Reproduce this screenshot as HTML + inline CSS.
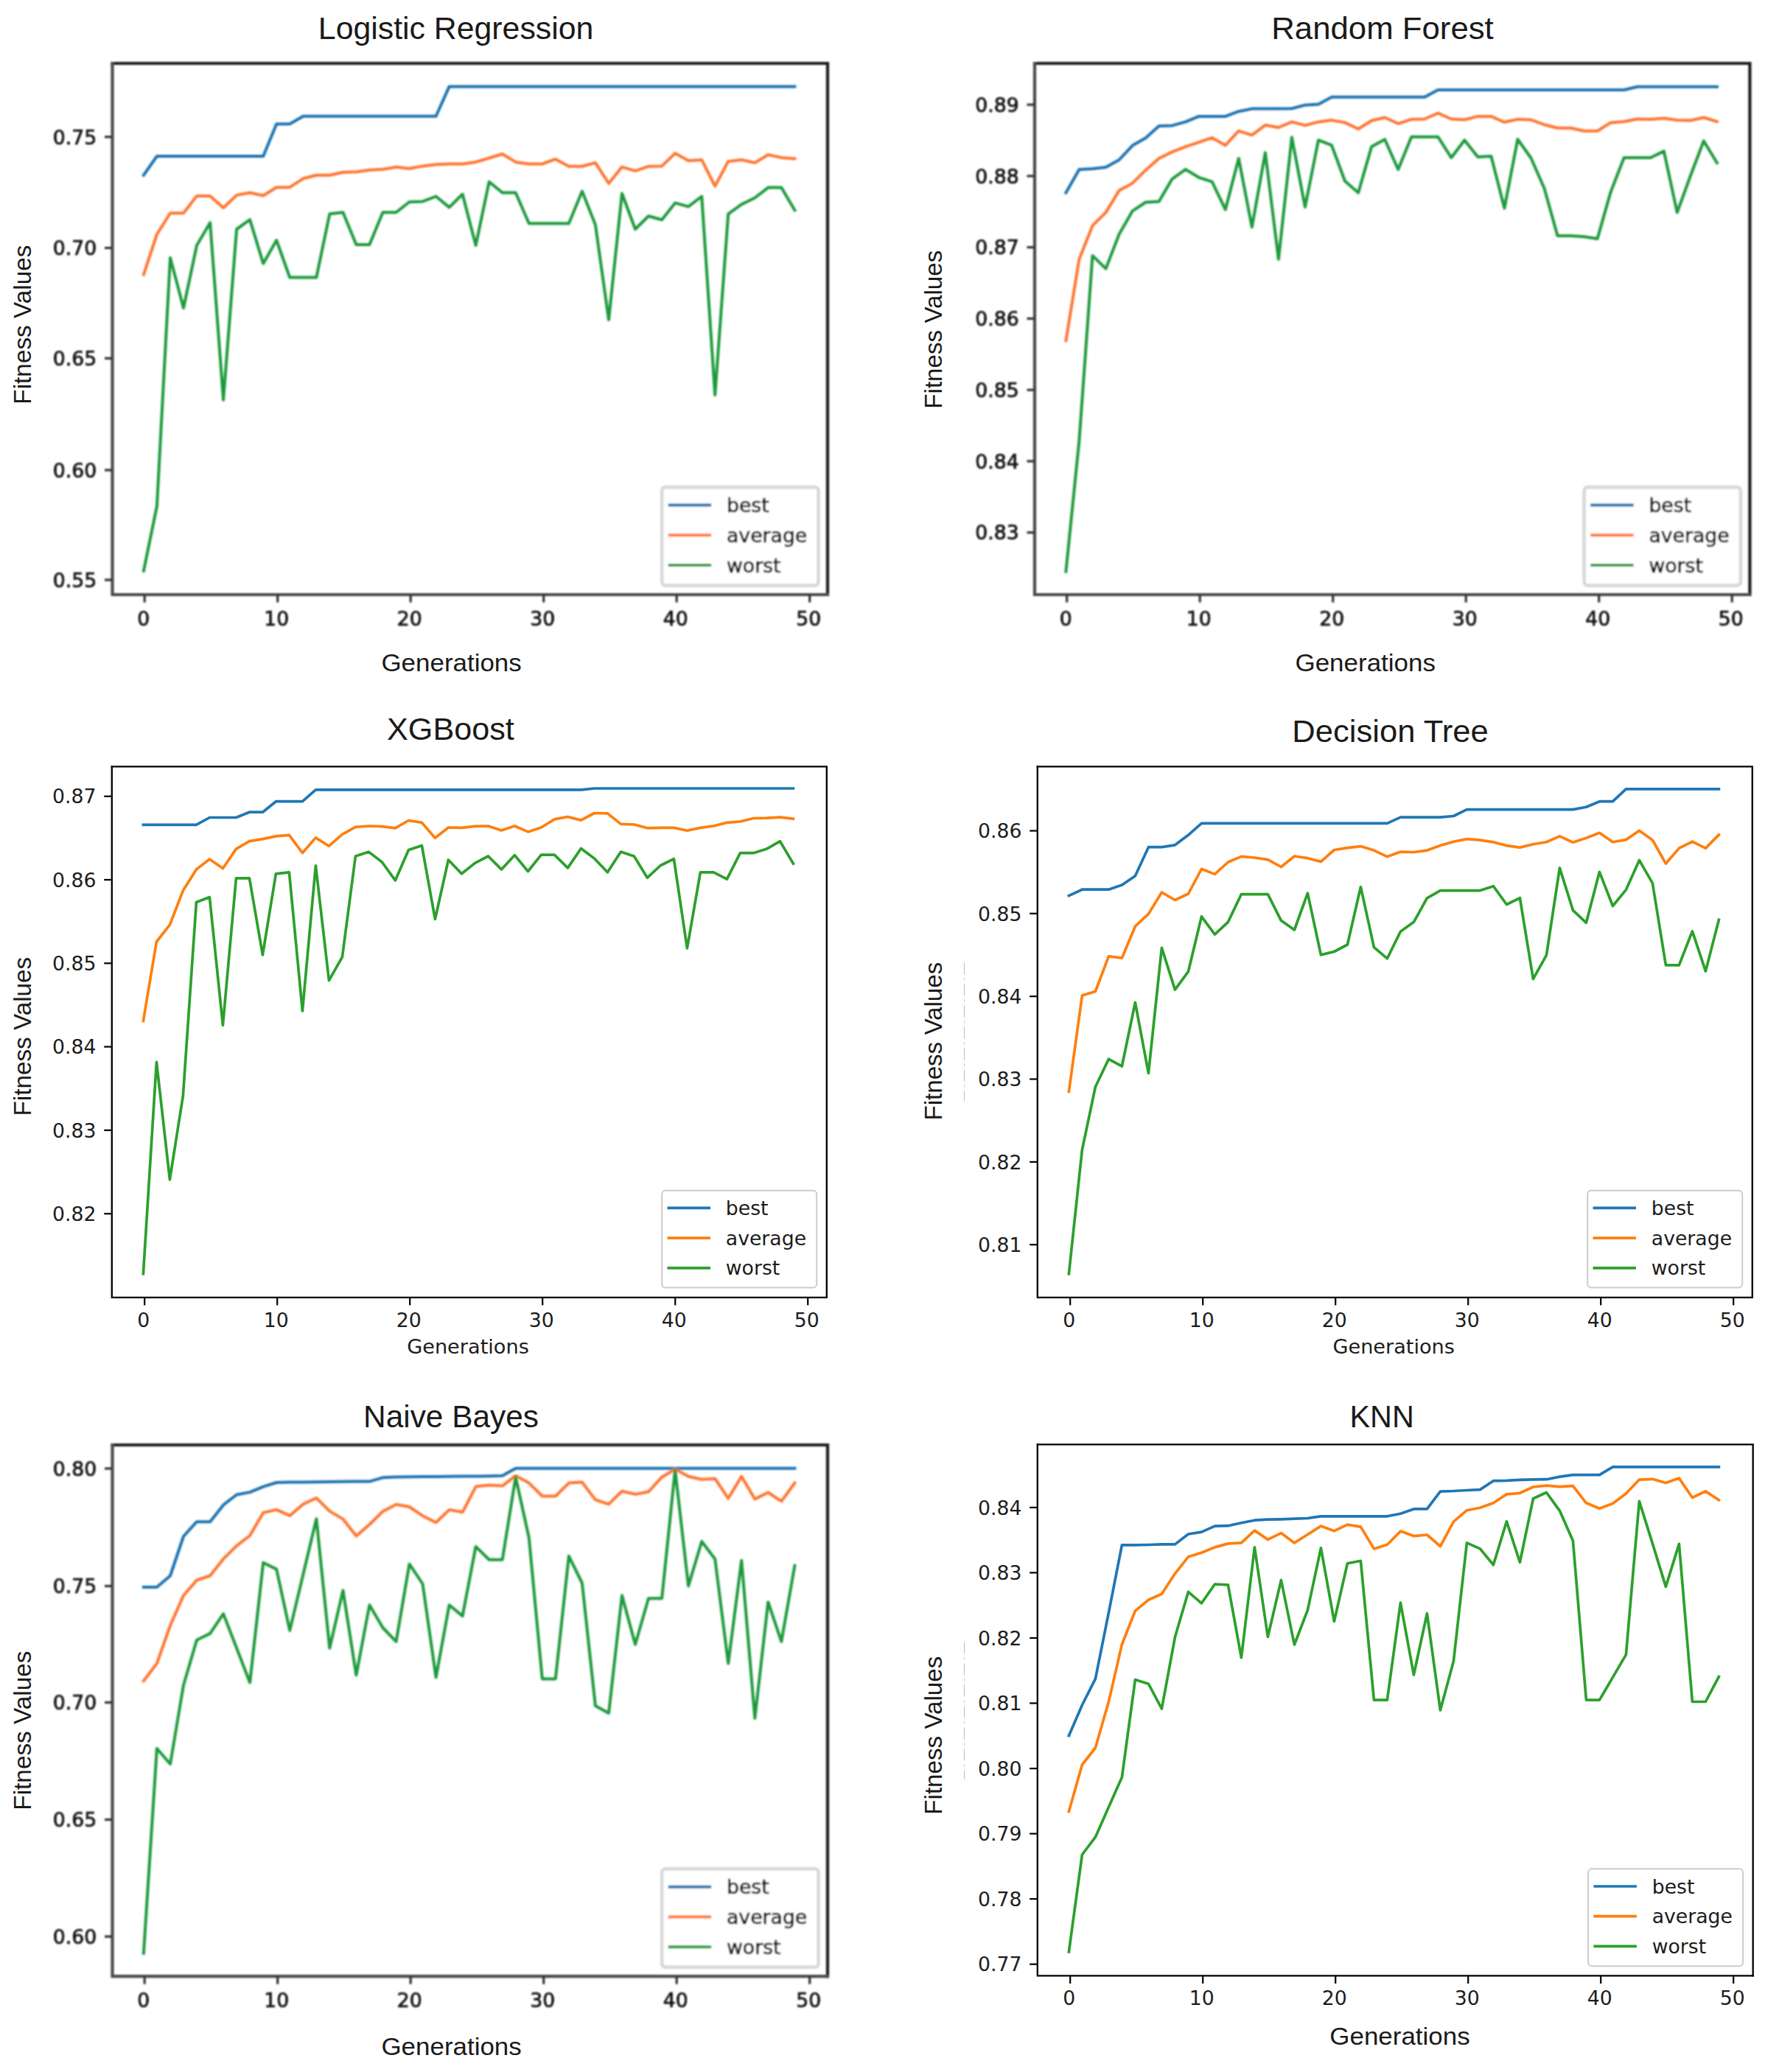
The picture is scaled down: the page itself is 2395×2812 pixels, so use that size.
<!DOCTYPE html>
<html><head><meta charset="utf-8"><title>Fitness curves</title>
<style>html,body{margin:0;padding:0;background:#fff}svg{display:block}text{white-space:pre}</style></head><body>
<svg width="2395" height="2812" viewBox="0 0 2395 2812">
<defs><filter id="bl" x="-5%" y="-5%" width="110%" height="110%"><feGaussianBlur stdDeviation="1.0"/></filter></defs>
<rect width="2395" height="2812" fill="#fff"/>
<g filter="url(#bl)"><polyline points="194.9,237.7 212.9,212 231,212 249,212 267,212 285.1,212 303.1,212 321.1,212 339.1,212 357.2,212 375.2,168.3 393.2,168.3 411.3,157.7 429.3,157.7 447.3,157.7 465.4,157.7 483.4,157.7 501.4,157.7 519.4,157.7 537.5,157.7 555.5,157.7 573.5,157.7 591.6,157.7 609.6,117.4 627.6,117.4 645.6,117.4 663.7,117.4 681.7,117.4 699.7,117.4 717.8,117.4 735.8,117.4 753.8,117.4 771.9,117.4 789.9,117.4 807.9,117.4 826,117.4 844,117.4 862,117.4 880,117.4 898.1,117.4 916.1,117.4 934.1,117.4 952.2,117.4 970.2,117.4 988.2,117.4 1006.2,117.4 1024.3,117.4 1042.3,117.4 1060.3,117.4 1078.4,117.4" fill="none" stroke="#1f72b0" stroke-width="4" stroke-linejoin="round" stroke-linecap="square"/>
<polyline points="194.9,372.6 212.9,318 231,289.3 249,289.3 267,265.9 285.1,265.9 303.1,282 321.1,264.9 339.1,261.5 357.2,265.5 375.2,254.2 393.2,254.2 411.3,242.3 429.3,237.7 447.3,237.7 465.4,233.8 483.4,233.2 501.4,230.8 519.4,229.8 537.5,226.8 555.5,228.8 573.5,225.4 591.6,223.3 609.6,222.5 627.6,222.5 645.6,219.9 663.7,214.5 681.7,209 699.7,219.9 717.8,222.5 735.8,222.5 753.8,215.9 771.9,225.8 789.9,225.8 807.9,220.9 826,249 844,226.6 862,231.8 880,225.8 898.1,225.4 916.1,208 934.1,217.9 952.2,216.9 970.2,252.6 988.2,218.9 1006.2,216.9 1024.3,220.9 1042.3,210 1060.3,213.9 1078.4,215.3" fill="none" stroke="#ff7530" stroke-width="4" stroke-linejoin="round" stroke-linecap="square"/>
<polyline points="194.9,774.8 212.9,687 231,349.8 249,418 267,333 285.1,302.2 303.1,542.8 321.1,311 339.1,298.2 357.2,357.7 375.2,326 393.2,376.5 411.3,376.5 429.3,376.5 447.3,290.3 465.4,288.3 483.4,332 501.4,332 519.4,288.3 537.5,288.3 555.5,274 573.5,273.4 591.6,266.5 609.6,281.4 627.6,263.5 645.6,333 663.7,246.7 681.7,261.5 699.7,261.5 717.8,303.2 735.8,303.2 753.8,303.2 771.9,303.2 789.9,259.5 807.9,305 826,434 844,262.5 862,311 880,293.3 898.1,298.2 916.1,275.4 934.1,280.4 952.2,266.5 970.2,536 988.2,290.3 1006.2,277.4 1024.3,268.5 1042.3,254.6 1060.3,254.6 1078.4,285.3" fill="none" stroke="#1d9a3a" stroke-width="4" stroke-linejoin="round" stroke-linecap="square"/>
<rect x="898.2" y="661.1" width="212.4" height="133.5" rx="5" ry="5" fill="#fff" fill-opacity="0.8" stroke="#d8d8d8" stroke-width="4.6"/>
<line x1="906.7" y1="685.6" x2="965.2" y2="685.6" stroke="#1f72b0" stroke-width="4"/>
<text x="986" y="695.2" font-family='"DejaVu Sans","Liberation Sans",sans-serif' font-size="26.7" fill="#0a0a0a" stroke="#0a0a0a" stroke-width="0.7">best</text>
<line x1="906.7" y1="726.3" x2="965.2" y2="726.3" stroke="#ff7530" stroke-width="4"/>
<text x="986" y="735.9" font-family='"DejaVu Sans","Liberation Sans",sans-serif' font-size="26.7" fill="#0a0a0a" stroke="#0a0a0a" stroke-width="0.7">average</text>
<line x1="906.7" y1="767" x2="965.2" y2="767" stroke="#1d9a3a" stroke-width="4"/>
<text x="986" y="776.6" font-family='"DejaVu Sans","Liberation Sans",sans-serif' font-size="26.7" fill="#0a0a0a" stroke="#0a0a0a" stroke-width="0.7">worst</text>
<path d="M152.5 86H1123V807" fill="none" stroke="#1c1c1c" stroke-width="4.2" stroke-linecap="square"/>
<path d="M152.5 86V807H1123" fill="none" stroke="#4a4a4a" stroke-width="4.2" stroke-linecap="square"/>
<line x1="196.2" y1="807" x2="196.2" y2="817.5" stroke="#333" stroke-width="3.2"/>
<text x="194.7" y="848.7" text-anchor="middle" font-family='"DejaVu Sans","Liberation Sans",sans-serif' font-size="26.7" fill="#0a0a0a" stroke="#0a0a0a" stroke-width="0.7">0</text>
<line x1="376.7" y1="807" x2="376.7" y2="817.5" stroke="#333" stroke-width="3.2"/>
<text x="375.2" y="848.7" text-anchor="middle" font-family='"DejaVu Sans","Liberation Sans",sans-serif' font-size="26.7" fill="#0a0a0a" stroke="#0a0a0a" stroke-width="0.7">10</text>
<line x1="557.2" y1="807" x2="557.2" y2="817.5" stroke="#333" stroke-width="3.2"/>
<text x="555.7" y="848.7" text-anchor="middle" font-family='"DejaVu Sans","Liberation Sans",sans-serif' font-size="26.7" fill="#0a0a0a" stroke="#0a0a0a" stroke-width="0.7">20</text>
<line x1="737.7" y1="807" x2="737.7" y2="817.5" stroke="#333" stroke-width="3.2"/>
<text x="736.2" y="848.7" text-anchor="middle" font-family='"DejaVu Sans","Liberation Sans",sans-serif' font-size="26.7" fill="#0a0a0a" stroke="#0a0a0a" stroke-width="0.7">30</text>
<line x1="918.2" y1="807" x2="918.2" y2="817.5" stroke="#333" stroke-width="3.2"/>
<text x="916.7" y="848.7" text-anchor="middle" font-family='"DejaVu Sans","Liberation Sans",sans-serif' font-size="26.7" fill="#0a0a0a" stroke="#0a0a0a" stroke-width="0.7">40</text>
<line x1="1098.7" y1="807" x2="1098.7" y2="817.5" stroke="#333" stroke-width="3.2"/>
<text x="1097.2" y="848.7" text-anchor="middle" font-family='"DejaVu Sans","Liberation Sans",sans-serif' font-size="26.7" fill="#0a0a0a" stroke="#0a0a0a" stroke-width="0.7">50</text>
<line x1="142" y1="185.8" x2="152.5" y2="185.8" stroke="#333" stroke-width="3.2"/>
<text x="131.2" y="195.5" text-anchor="end" font-family='"DejaVu Sans","Liberation Sans",sans-serif' font-size="26.7" fill="#0a0a0a" stroke="#0a0a0a" stroke-width="0.7">0.75</text>
<line x1="142" y1="336.5" x2="152.5" y2="336.5" stroke="#333" stroke-width="3.2"/>
<text x="131.2" y="346.2" text-anchor="end" font-family='"DejaVu Sans","Liberation Sans",sans-serif' font-size="26.7" fill="#0a0a0a" stroke="#0a0a0a" stroke-width="0.7">0.70</text>
<line x1="142" y1="486.3" x2="152.5" y2="486.3" stroke="#333" stroke-width="3.2"/>
<text x="131.2" y="496" text-anchor="end" font-family='"DejaVu Sans","Liberation Sans",sans-serif' font-size="26.7" fill="#0a0a0a" stroke="#0a0a0a" stroke-width="0.7">0.65</text>
<line x1="142" y1="638" x2="152.5" y2="638" stroke="#333" stroke-width="3.2"/>
<text x="131.2" y="647.7" text-anchor="end" font-family='"DejaVu Sans","Liberation Sans",sans-serif' font-size="26.7" fill="#0a0a0a" stroke="#0a0a0a" stroke-width="0.7">0.60</text>
<line x1="142" y1="787" x2="152.5" y2="787" stroke="#333" stroke-width="3.2"/>
<text x="131.2" y="796.7" text-anchor="end" font-family='"DejaVu Sans","Liberation Sans",sans-serif' font-size="26.7" fill="#0a0a0a" stroke="#0a0a0a" stroke-width="0.7">0.55</text></g>
<text x="618.6" y="52.8" text-anchor="middle" font-family='"Liberation Sans","DejaVu Sans",sans-serif' font-size="42" fill="#1a1a1a" textLength="373.5" lengthAdjust="spacingAndGlyphs">Logistic Regression</text>
<text x="612.6" y="910.5" text-anchor="middle" font-family='"Liberation Sans","DejaVu Sans",sans-serif' font-size="33" fill="#1a1a1a" textLength="190.4" lengthAdjust="spacingAndGlyphs">Generations</text>
<text transform="translate(42.2 440.6) rotate(-90)" x="0" y="0" text-anchor="middle" font-family='"Liberation Sans","DejaVu Sans",sans-serif' font-size="33" fill="#1a1a1a" textLength="216.1" lengthAdjust="spacingAndGlyphs">Fitness Values</text>
<g filter="url(#bl)"><polyline points="1446.4,261.6 1464.4,229.9 1482.5,228.9 1500.5,226.9 1518.5,217 1536.6,197.6 1554.6,187.2 1572.6,171 1590.6,170.4 1608.7,165.4 1626.7,157.9 1644.7,157.9 1662.8,157.9 1680.8,151.2 1698.8,147.6 1716.9,147.6 1734.9,147.6 1752.9,147.2 1770.9,142.6 1789,141.6 1807,131.7 1825,131.7 1843.1,131.7 1861.1,131.7 1879.1,131.7 1897.2,131.7 1915.2,131.7 1933.2,131.7 1951.2,122 1969.3,122 1987.3,122 2005.3,122 2023.4,122 2041.4,122 2059.4,122 2077.5,122 2095.5,122 2113.5,122 2131.5,122 2149.6,122 2167.6,122 2185.6,122 2203.7,122 2221.7,117.8 2239.7,117.8 2257.8,117.8 2275.8,117.8 2293.8,117.8 2311.8,117.8 2329.9,117.8" fill="none" stroke="#1f72b0" stroke-width="4" stroke-linejoin="round" stroke-linecap="square"/>
<polyline points="1446.4,462.3 1464.4,351.8 1482.5,306.2 1500.5,288.4 1518.5,258.6 1536.6,248.7 1554.6,230.9 1572.6,215 1590.6,206.1 1608.7,199.1 1626.7,193.2 1644.7,186.9 1662.8,197.2 1680.8,177.7 1698.8,183.3 1716.9,169.8 1734.9,173 1752.9,165.4 1770.9,170.1 1789,165.4 1807,163.1 1825,166.4 1843.1,175 1861.1,163.8 1879.1,159.5 1897.2,167.8 1915.2,161.9 1933.2,161.5 1951.2,153.5 1969.3,161.5 1987.3,162.5 2005.3,157.9 2023.4,157.9 2041.4,165.8 2059.4,161.9 2077.5,162.5 2095.5,169.2 2113.5,173.8 2131.5,173.8 2149.6,177.7 2167.6,177.7 2185.6,166.4 2203.7,165 2221.7,161.5 2239.7,161.9 2257.8,160.5 2275.8,163.1 2293.8,163.5 2311.8,159.5 2329.9,165" fill="none" stroke="#ff7530" stroke-width="4" stroke-linejoin="round" stroke-linecap="square"/>
<polyline points="1446.4,775.6 1464.4,598 1482.5,346.9 1500.5,364.7 1518.5,318.1 1536.6,286.4 1554.6,274.5 1572.6,273.5 1590.6,242.8 1608.7,229.9 1626.7,240.8 1644.7,246.7 1662.8,284.4 1680.8,215 1698.8,308.2 1716.9,207.1 1734.9,351.8 1752.9,186.3 1770.9,281 1789,190.2 1807,197.2 1825,245.7 1843.1,261.6 1861.1,199.1 1879.1,189.2 1897.2,229.9 1915.2,185.7 1933.2,185.7 1951.2,185.7 1969.3,214 1987.3,190.2 2005.3,213 2023.4,212 2041.4,282.5 2059.4,189 2077.5,214.5 2095.5,255.5 2113.5,320 2131.5,320 2149.6,321.3 2167.6,323.9 2185.6,260.6 2203.7,214 2221.7,214 2239.7,214 2257.8,205.1 2275.8,288.4 2293.8,238.8 2311.8,191.2 2329.9,221" fill="none" stroke="#1d9a3a" stroke-width="4" stroke-linejoin="round" stroke-linecap="square"/>
<rect x="2149.6" y="661.1" width="212.4" height="133.5" rx="5" ry="5" fill="#fff" fill-opacity="0.8" stroke="#d8d8d8" stroke-width="4.6"/>
<line x1="2158.1" y1="685.6" x2="2216.6" y2="685.6" stroke="#1f72b0" stroke-width="4"/>
<text x="2237.4" y="695.2" font-family='"DejaVu Sans","Liberation Sans",sans-serif' font-size="26.7" fill="#0a0a0a" stroke="#0a0a0a" stroke-width="0.7">best</text>
<line x1="2158.1" y1="726.3" x2="2216.6" y2="726.3" stroke="#ff7530" stroke-width="4"/>
<text x="2237.4" y="735.9" font-family='"DejaVu Sans","Liberation Sans",sans-serif' font-size="26.7" fill="#0a0a0a" stroke="#0a0a0a" stroke-width="0.7">average</text>
<line x1="2158.1" y1="767" x2="2216.6" y2="767" stroke="#1d9a3a" stroke-width="4"/>
<text x="2237.4" y="776.6" font-family='"DejaVu Sans","Liberation Sans",sans-serif' font-size="26.7" fill="#0a0a0a" stroke="#0a0a0a" stroke-width="0.7">worst</text>
<path d="M1404 86H2374.4V807" fill="none" stroke="#1c1c1c" stroke-width="4.2" stroke-linecap="square"/>
<path d="M1404 86V807H2374.4" fill="none" stroke="#4a4a4a" stroke-width="4.2" stroke-linecap="square"/>
<line x1="1447.7" y1="807" x2="1447.7" y2="817.5" stroke="#333" stroke-width="3.2"/>
<text x="1446.2" y="848.7" text-anchor="middle" font-family='"DejaVu Sans","Liberation Sans",sans-serif' font-size="26.7" fill="#0a0a0a" stroke="#0a0a0a" stroke-width="0.7">0</text>
<line x1="1628.2" y1="807" x2="1628.2" y2="817.5" stroke="#333" stroke-width="3.2"/>
<text x="1626.7" y="848.7" text-anchor="middle" font-family='"DejaVu Sans","Liberation Sans",sans-serif' font-size="26.7" fill="#0a0a0a" stroke="#0a0a0a" stroke-width="0.7">10</text>
<line x1="1808.7" y1="807" x2="1808.7" y2="817.5" stroke="#333" stroke-width="3.2"/>
<text x="1807.2" y="848.7" text-anchor="middle" font-family='"DejaVu Sans","Liberation Sans",sans-serif' font-size="26.7" fill="#0a0a0a" stroke="#0a0a0a" stroke-width="0.7">20</text>
<line x1="1989.2" y1="807" x2="1989.2" y2="817.5" stroke="#333" stroke-width="3.2"/>
<text x="1987.7" y="848.7" text-anchor="middle" font-family='"DejaVu Sans","Liberation Sans",sans-serif' font-size="26.7" fill="#0a0a0a" stroke="#0a0a0a" stroke-width="0.7">30</text>
<line x1="2169.7" y1="807" x2="2169.7" y2="817.5" stroke="#333" stroke-width="3.2"/>
<text x="2168.2" y="848.7" text-anchor="middle" font-family='"DejaVu Sans","Liberation Sans",sans-serif' font-size="26.7" fill="#0a0a0a" stroke="#0a0a0a" stroke-width="0.7">40</text>
<line x1="2350.2" y1="807" x2="2350.2" y2="817.5" stroke="#333" stroke-width="3.2"/>
<text x="2348.7" y="848.7" text-anchor="middle" font-family='"DejaVu Sans","Liberation Sans",sans-serif' font-size="26.7" fill="#0a0a0a" stroke="#0a0a0a" stroke-width="0.7">50</text>
<line x1="1393.5" y1="142.1" x2="1404" y2="142.1" stroke="#333" stroke-width="3.2"/>
<text x="1382.7" y="151.8" text-anchor="end" font-family='"DejaVu Sans","Liberation Sans",sans-serif' font-size="26.7" fill="#0a0a0a" stroke="#0a0a0a" stroke-width="0.7">0.89</text>
<line x1="1393.5" y1="238.9" x2="1404" y2="238.9" stroke="#333" stroke-width="3.2"/>
<text x="1382.7" y="248.6" text-anchor="end" font-family='"DejaVu Sans","Liberation Sans",sans-serif' font-size="26.7" fill="#0a0a0a" stroke="#0a0a0a" stroke-width="0.7">0.88</text>
<line x1="1393.5" y1="335.6" x2="1404" y2="335.6" stroke="#333" stroke-width="3.2"/>
<text x="1382.7" y="345.3" text-anchor="end" font-family='"DejaVu Sans","Liberation Sans",sans-serif' font-size="26.7" fill="#0a0a0a" stroke="#0a0a0a" stroke-width="0.7">0.87</text>
<line x1="1393.5" y1="432.4" x2="1404" y2="432.4" stroke="#333" stroke-width="3.2"/>
<text x="1382.7" y="442.1" text-anchor="end" font-family='"DejaVu Sans","Liberation Sans",sans-serif' font-size="26.7" fill="#0a0a0a" stroke="#0a0a0a" stroke-width="0.7">0.86</text>
<line x1="1393.5" y1="529.2" x2="1404" y2="529.2" stroke="#333" stroke-width="3.2"/>
<text x="1382.7" y="538.9" text-anchor="end" font-family='"DejaVu Sans","Liberation Sans",sans-serif' font-size="26.7" fill="#0a0a0a" stroke="#0a0a0a" stroke-width="0.7">0.85</text>
<line x1="1393.5" y1="625.9" x2="1404" y2="625.9" stroke="#333" stroke-width="3.2"/>
<text x="1382.7" y="635.6" text-anchor="end" font-family='"DejaVu Sans","Liberation Sans",sans-serif' font-size="26.7" fill="#0a0a0a" stroke="#0a0a0a" stroke-width="0.7">0.84</text>
<line x1="1393.5" y1="722.7" x2="1404" y2="722.7" stroke="#333" stroke-width="3.2"/>
<text x="1382.7" y="732.4" text-anchor="end" font-family='"DejaVu Sans","Liberation Sans",sans-serif' font-size="26.7" fill="#0a0a0a" stroke="#0a0a0a" stroke-width="0.7">0.83</text></g>
<text x="1876" y="52.8" text-anchor="middle" font-family='"Liberation Sans","DejaVu Sans",sans-serif' font-size="42" fill="#1a1a1a" textLength="301.5" lengthAdjust="spacingAndGlyphs">Random Forest</text>
<text x="1852.7" y="910.5" text-anchor="middle" font-family='"Liberation Sans","DejaVu Sans",sans-serif' font-size="33" fill="#1a1a1a" textLength="190.4" lengthAdjust="spacingAndGlyphs">Generations</text>
<text transform="translate(1278 447.2) rotate(-90)" x="0" y="0" text-anchor="middle" font-family='"Liberation Sans","DejaVu Sans",sans-serif' font-size="33" fill="#1a1a1a" textLength="215.1" lengthAdjust="spacingAndGlyphs">Fitness Values</text>
<g><polyline points="194.4,1119.4 212.4,1119.4 230.4,1119.4 248.4,1119.4 266.4,1119.4 284.4,1109.5 302.4,1109.5 320.4,1109.5 338.4,1102.2 356.4,1102.2 374.4,1087.7 392.4,1087.7 410.4,1087.7 428.4,1071.8 446.4,1071.8 464.4,1071.8 482.4,1071.8 500.4,1071.8 518.4,1071.8 536.4,1071.8 554.4,1071.8 572.4,1071.8 590.4,1071.8 608.4,1071.8 626.4,1071.8 644.4,1071.8 662.4,1071.8 680.4,1071.8 698.4,1071.8 716.4,1071.8 734.4,1071.8 752.4,1071.8 770.4,1071.8 788.4,1071.8 806.4,1070 824.4,1070 842.4,1070 860.4,1070 878.4,1070 896.4,1070 914.4,1070 932.4,1070 950.4,1070 968.4,1070 986.4,1070 1004.4,1070 1022.4,1070 1040.4,1070 1058.4,1070 1076.4,1070" fill="none" stroke="#1f77b4" stroke-width="3.7" stroke-linejoin="round" stroke-linecap="square"/>
<polyline points="194.4,1385.5 212.4,1278 230.4,1255.2 248.4,1208.6 266.4,1179.9 284.4,1166 302.4,1178.5 320.4,1152.1 338.4,1141.6 356.4,1138.6 374.4,1134.9 392.4,1133.3 410.4,1157.5 428.4,1136.9 446.4,1148.2 464.4,1132.3 482.4,1122.4 500.4,1121 518.4,1121.6 536.4,1123.8 554.4,1113.5 572.4,1116.4 590.4,1137.2 608.4,1123 626.4,1123.4 644.4,1121.4 662.4,1121 680.4,1126.9 698.4,1121 716.4,1128.9 734.4,1123 752.4,1111.9 770.4,1108.5 788.4,1113.1 806.4,1103.5 824.4,1103.9 842.4,1118.4 860.4,1119 878.4,1123.8 896.4,1123.4 914.4,1123.4 932.4,1127.3 950.4,1123.4 968.4,1121 986.4,1116.4 1004.4,1115 1022.4,1110.5 1040.4,1110.1 1058.4,1109.1 1076.4,1111.1" fill="none" stroke="#ff7f0e" stroke-width="3.7" stroke-linejoin="round" stroke-linecap="square"/>
<polyline points="194.4,1728.8 212.4,1441.3 230.4,1600.9 248.4,1486.9 266.4,1224.5 284.4,1217.6 302.4,1391.4 320.4,1191.8 338.4,1191.8 356.4,1295.9 374.4,1185.8 392.4,1183.8 410.4,1372 428.4,1174.9 446.4,1330.6 464.4,1298.9 482.4,1162 500.4,1156.1 518.4,1170 536.4,1194.8 554.4,1153.5 572.4,1147.6 590.4,1247.3 608.4,1167 626.4,1185.8 644.4,1171.4 662.4,1162 680.4,1179.9 698.4,1160.6 716.4,1182.5 734.4,1160.1 752.4,1160.1 770.4,1177.9 788.4,1151.5 806.4,1165 824.4,1183.8 842.4,1156.1 860.4,1162 878.4,1191.2 896.4,1174.5 914.4,1165.6 932.4,1287 950.4,1183.8 968.4,1183.8 986.4,1193.2 1004.4,1157.7 1022.4,1157.7 1040.4,1152.1 1058.4,1141.6 1076.4,1172" fill="none" stroke="#2ca02c" stroke-width="3.7" stroke-linejoin="round" stroke-linecap="square"/>
<rect x="898.2" y="1615.7" width="210" height="131.9" rx="5" ry="5" fill="#fff" fill-opacity="0.8" stroke="#cccccc" stroke-width="2"/>
<line x1="905.5" y1="1639.4" x2="964" y2="1639.4" stroke="#1f77b4" stroke-width="3.7"/>
<text x="984.8" y="1649" font-family='"DejaVu Sans","Liberation Sans",sans-serif' font-size="26.7" fill="#1c1c1c">best</text>
<line x1="905.5" y1="1680.1" x2="964" y2="1680.1" stroke="#ff7f0e" stroke-width="3.7"/>
<text x="984.8" y="1689.7" font-family='"DejaVu Sans","Liberation Sans",sans-serif' font-size="26.7" fill="#1c1c1c">average</text>
<line x1="905.5" y1="1720.8" x2="964" y2="1720.8" stroke="#2ca02c" stroke-width="3.7"/>
<text x="984.8" y="1730.4" font-family='"DejaVu Sans","Liberation Sans",sans-serif' font-size="26.7" fill="#1c1c1c">worst</text>
<path d="M151.8 1040.3H1121.8V1760.8" fill="none" stroke="#000" stroke-width="2.3" stroke-linecap="square"/>
<path d="M151.8 1040.3V1760.8H1121.8" fill="none" stroke="#000" stroke-width="2.3" stroke-linecap="square"/>
<line x1="196.2" y1="1760.8" x2="196.2" y2="1771.4" stroke="#000" stroke-width="2.2"/>
<text x="194.7" y="1800.8" text-anchor="middle" font-family='"DejaVu Sans","Liberation Sans",sans-serif' font-size="26.7" fill="#1c1c1c">0</text>
<line x1="376.2" y1="1760.8" x2="376.2" y2="1771.4" stroke="#000" stroke-width="2.2"/>
<text x="374.7" y="1800.8" text-anchor="middle" font-family='"DejaVu Sans","Liberation Sans",sans-serif' font-size="26.7" fill="#1c1c1c">10</text>
<line x1="556.2" y1="1760.8" x2="556.2" y2="1771.4" stroke="#000" stroke-width="2.2"/>
<text x="554.7" y="1800.8" text-anchor="middle" font-family='"DejaVu Sans","Liberation Sans",sans-serif' font-size="26.7" fill="#1c1c1c">20</text>
<line x1="736.2" y1="1760.8" x2="736.2" y2="1771.4" stroke="#000" stroke-width="2.2"/>
<text x="734.7" y="1800.8" text-anchor="middle" font-family='"DejaVu Sans","Liberation Sans",sans-serif' font-size="26.7" fill="#1c1c1c">30</text>
<line x1="916.2" y1="1760.8" x2="916.2" y2="1771.4" stroke="#000" stroke-width="2.2"/>
<text x="914.7" y="1800.8" text-anchor="middle" font-family='"DejaVu Sans","Liberation Sans",sans-serif' font-size="26.7" fill="#1c1c1c">40</text>
<line x1="1096.2" y1="1760.8" x2="1096.2" y2="1771.4" stroke="#000" stroke-width="2.2"/>
<text x="1094.7" y="1800.8" text-anchor="middle" font-family='"DejaVu Sans","Liberation Sans",sans-serif' font-size="26.7" fill="#1c1c1c">50</text>
<line x1="141.2" y1="1080.7" x2="151.8" y2="1080.7" stroke="#000" stroke-width="2.2"/>
<text x="130.5" y="1090.4" text-anchor="end" font-family='"DejaVu Sans","Liberation Sans",sans-serif' font-size="26.7" fill="#1c1c1c">0.87</text>
<line x1="141.2" y1="1194" x2="151.8" y2="1194" stroke="#000" stroke-width="2.2"/>
<text x="130.5" y="1203.7" text-anchor="end" font-family='"DejaVu Sans","Liberation Sans",sans-serif' font-size="26.7" fill="#1c1c1c">0.86</text>
<line x1="141.2" y1="1307.3" x2="151.8" y2="1307.3" stroke="#000" stroke-width="2.2"/>
<text x="130.5" y="1317" text-anchor="end" font-family='"DejaVu Sans","Liberation Sans",sans-serif' font-size="26.7" fill="#1c1c1c">0.85</text>
<line x1="141.2" y1="1420.6" x2="151.8" y2="1420.6" stroke="#000" stroke-width="2.2"/>
<text x="130.5" y="1430.3" text-anchor="end" font-family='"DejaVu Sans","Liberation Sans",sans-serif' font-size="26.7" fill="#1c1c1c">0.84</text>
<line x1="141.2" y1="1533.9" x2="151.8" y2="1533.9" stroke="#000" stroke-width="2.2"/>
<text x="130.5" y="1543.6" text-anchor="end" font-family='"DejaVu Sans","Liberation Sans",sans-serif' font-size="26.7" fill="#1c1c1c">0.83</text>
<line x1="141.2" y1="1647.2" x2="151.8" y2="1647.2" stroke="#000" stroke-width="2.2"/>
<text x="130.5" y="1656.9" text-anchor="end" font-family='"DejaVu Sans","Liberation Sans",sans-serif' font-size="26.7" fill="#1c1c1c">0.82</text></g>
<text x="611.4" y="1004.3" text-anchor="middle" font-family='"Liberation Sans","DejaVu Sans",sans-serif' font-size="42" fill="#1a1a1a" textLength="172.8" lengthAdjust="spacingAndGlyphs">XGBoost</text>
<text x="635" y="1837.4" text-anchor="middle" font-family='"DejaVu Sans","Liberation Sans",sans-serif' font-size="26.7" fill="#1c1c1c" textLength="165.7" lengthAdjust="spacingAndGlyphs">Generations</text>
<text transform="translate(42.2 1406.7) rotate(-90)" x="0" y="0" text-anchor="middle" font-family='"Liberation Sans","DejaVu Sans",sans-serif' font-size="33" fill="#1a1a1a" textLength="215.8" lengthAdjust="spacingAndGlyphs">Fitness Values</text>
<g><polyline points="1450.4,1215.6 1468.4,1207.2 1486.4,1207.2 1504.4,1207.2 1522.4,1201.1 1540.4,1188.8 1558.4,1149.7 1576.4,1149.7 1594.4,1146.8 1612.4,1133.3 1630.4,1117.4 1648.4,1117.4 1666.4,1117.4 1684.4,1117.4 1702.4,1117.4 1720.4,1117.4 1738.4,1117.4 1756.4,1117.4 1774.4,1117.4 1792.4,1117.4 1810.4,1117.4 1828.4,1117.4 1846.4,1117.4 1864.4,1117.4 1882.4,1117.4 1900.4,1109.1 1918.4,1109.1 1936.4,1109.1 1954.4,1109.1 1972.4,1107.5 1990.4,1098.6 2008.4,1098.6 2026.4,1098.6 2044.4,1098.6 2062.4,1098.6 2080.4,1098.6 2098.4,1098.6 2116.4,1098.6 2134.4,1098.6 2152.4,1095.2 2170.4,1087.7 2188.4,1087.7 2206.4,1070.8 2224.4,1070.8 2242.4,1070.8 2260.4,1070.8 2278.4,1070.8 2296.4,1070.8 2314.4,1070.8 2332.4,1070.8" fill="none" stroke="#1f77b4" stroke-width="3.7" stroke-linejoin="round" stroke-linecap="square"/>
<polyline points="1450.4,1481.4 1468.4,1351 1486.4,1345.5 1504.4,1297.9 1522.4,1300.2 1540.4,1257.2 1558.4,1240.4 1576.4,1211 1594.4,1221.5 1612.4,1213 1630.4,1179.3 1648.4,1186.4 1666.4,1170 1684.4,1162.4 1702.4,1164 1720.4,1166.6 1738.4,1176.5 1756.4,1162 1774.4,1164.6 1792.4,1169.4 1810.4,1153.5 1828.4,1150.7 1846.4,1148.6 1864.4,1154.1 1882.4,1162.6 1900.4,1156.1 1918.4,1156.5 1936.4,1154.1 1954.4,1147.6 1972.4,1142.2 1990.4,1138.6 2008.4,1140.2 2026.4,1142.8 2044.4,1147.6 2062.4,1150.1 2080.4,1145.7 2098.4,1142.7 2116.4,1134.9 2134.4,1143.2 2152.4,1137.2 2170.4,1130.3 2188.4,1142.8 2206.4,1139.6 2224.4,1127.3 2242.4,1140.2 2260.4,1172 2278.4,1151.1 2296.4,1142.2 2314.4,1151.1 2332.4,1132.9" fill="none" stroke="#ff7f0e" stroke-width="3.7" stroke-linejoin="round" stroke-linecap="square"/>
<polyline points="1450.4,1728.8 1468.4,1560.3 1486.4,1475 1504.4,1437.3 1522.4,1447 1540.4,1360.5 1558.4,1456.5 1576.4,1286.4 1594.4,1343.1 1612.4,1318.7 1630.4,1243.9 1648.4,1268.1 1666.4,1251.3 1684.4,1213.6 1702.4,1213.6 1720.4,1213.6 1738.4,1249.3 1756.4,1262 1774.4,1212.2 1792.4,1295.9 1810.4,1291.5 1828.4,1282 1846.4,1203.7 1864.4,1285.6 1882.4,1300.8 1900.4,1264.2 1918.4,1251.3 1936.4,1218.9 1954.4,1208.6 1972.4,1208.6 1990.4,1208.6 2008.4,1208.6 2026.4,1202.7 2044.4,1227.5 2062.4,1218.6 2080.4,1328.6 2098.4,1296.4 2116.4,1177.9 2134.4,1235.4 2152.4,1252.3 2170.4,1183.3 2188.4,1229.5 2206.4,1207.6 2224.4,1167.4 2242.4,1198.7 2260.4,1309.8 2278.4,1309.8 2296.4,1263.8 2314.4,1318.1 2332.4,1248.3" fill="none" stroke="#2ca02c" stroke-width="3.7" stroke-linejoin="round" stroke-linecap="square"/>
<rect x="2154.2" y="1615.7" width="210" height="131.9" rx="5" ry="5" fill="#fff" fill-opacity="0.8" stroke="#cccccc" stroke-width="2"/>
<line x1="2161.5" y1="1639.4" x2="2220" y2="1639.4" stroke="#1f77b4" stroke-width="3.7"/>
<text x="2240.8" y="1649" font-family='"DejaVu Sans","Liberation Sans",sans-serif' font-size="26.7" fill="#1c1c1c">best</text>
<line x1="2161.5" y1="1680.1" x2="2220" y2="1680.1" stroke="#ff7f0e" stroke-width="3.7"/>
<text x="2240.8" y="1689.7" font-family='"DejaVu Sans","Liberation Sans",sans-serif' font-size="26.7" fill="#1c1c1c">average</text>
<line x1="2161.5" y1="1720.8" x2="2220" y2="1720.8" stroke="#2ca02c" stroke-width="3.7"/>
<text x="2240.8" y="1730.4" font-family='"DejaVu Sans","Liberation Sans",sans-serif' font-size="26.7" fill="#1c1c1c">worst</text>
<path d="M1407.8 1040.3H2377.8V1760.8" fill="none" stroke="#000" stroke-width="2.3" stroke-linecap="square"/>
<path d="M1407.8 1040.3V1760.8H2377.8" fill="none" stroke="#000" stroke-width="2.3" stroke-linecap="square"/>
<line x1="1452.2" y1="1760.8" x2="1452.2" y2="1771.4" stroke="#000" stroke-width="2.2"/>
<text x="1450.7" y="1800.8" text-anchor="middle" font-family='"DejaVu Sans","Liberation Sans",sans-serif' font-size="26.7" fill="#1c1c1c">0</text>
<line x1="1632.2" y1="1760.8" x2="1632.2" y2="1771.4" stroke="#000" stroke-width="2.2"/>
<text x="1630.7" y="1800.8" text-anchor="middle" font-family='"DejaVu Sans","Liberation Sans",sans-serif' font-size="26.7" fill="#1c1c1c">10</text>
<line x1="1812.2" y1="1760.8" x2="1812.2" y2="1771.4" stroke="#000" stroke-width="2.2"/>
<text x="1810.7" y="1800.8" text-anchor="middle" font-family='"DejaVu Sans","Liberation Sans",sans-serif' font-size="26.7" fill="#1c1c1c">20</text>
<line x1="1992.2" y1="1760.8" x2="1992.2" y2="1771.4" stroke="#000" stroke-width="2.2"/>
<text x="1990.7" y="1800.8" text-anchor="middle" font-family='"DejaVu Sans","Liberation Sans",sans-serif' font-size="26.7" fill="#1c1c1c">30</text>
<line x1="2172.2" y1="1760.8" x2="2172.2" y2="1771.4" stroke="#000" stroke-width="2.2"/>
<text x="2170.7" y="1800.8" text-anchor="middle" font-family='"DejaVu Sans","Liberation Sans",sans-serif' font-size="26.7" fill="#1c1c1c">40</text>
<line x1="2352.2" y1="1760.8" x2="2352.2" y2="1771.4" stroke="#000" stroke-width="2.2"/>
<text x="2350.7" y="1800.8" text-anchor="middle" font-family='"DejaVu Sans","Liberation Sans",sans-serif' font-size="26.7" fill="#1c1c1c">50</text>
<line x1="1397.2" y1="1127.5" x2="1407.8" y2="1127.5" stroke="#000" stroke-width="2.2"/>
<text x="1386.5" y="1137.2" text-anchor="end" font-family='"DejaVu Sans","Liberation Sans",sans-serif' font-size="26.7" fill="#1c1c1c">0.86</text>
<line x1="1397.2" y1="1239.8" x2="1407.8" y2="1239.8" stroke="#000" stroke-width="2.2"/>
<text x="1386.5" y="1249.5" text-anchor="end" font-family='"DejaVu Sans","Liberation Sans",sans-serif' font-size="26.7" fill="#1c1c1c">0.85</text>
<line x1="1397.2" y1="1352.2" x2="1407.8" y2="1352.2" stroke="#000" stroke-width="2.2"/>
<text x="1386.5" y="1361.9" text-anchor="end" font-family='"DejaVu Sans","Liberation Sans",sans-serif' font-size="26.7" fill="#1c1c1c">0.84</text>
<line x1="1397.2" y1="1464.5" x2="1407.8" y2="1464.5" stroke="#000" stroke-width="2.2"/>
<text x="1386.5" y="1474.2" text-anchor="end" font-family='"DejaVu Sans","Liberation Sans",sans-serif' font-size="26.7" fill="#1c1c1c">0.83</text>
<line x1="1397.2" y1="1576.9" x2="1407.8" y2="1576.9" stroke="#000" stroke-width="2.2"/>
<text x="1386.5" y="1586.6" text-anchor="end" font-family='"DejaVu Sans","Liberation Sans",sans-serif' font-size="26.7" fill="#1c1c1c">0.82</text>
<line x1="1397.2" y1="1689.2" x2="1407.8" y2="1689.2" stroke="#000" stroke-width="2.2"/>
<text x="1386.5" y="1698.9" text-anchor="end" font-family='"DejaVu Sans","Liberation Sans",sans-serif' font-size="26.7" fill="#1c1c1c">0.81</text></g>
<line x1="1308.4" y1="1306.5" x2="1308.4" y2="1494.3" stroke="#8a8a8a" stroke-width="0.8" stroke-dasharray="16 5 3 5" opacity="0.8"/>
<text x="1886.5" y="1007.4" text-anchor="middle" font-family='"Liberation Sans","DejaVu Sans",sans-serif' font-size="42" fill="#1a1a1a" textLength="266.4" lengthAdjust="spacingAndGlyphs">Decision Tree</text>
<text x="1891.2" y="1837.4" text-anchor="middle" font-family='"DejaVu Sans","Liberation Sans",sans-serif' font-size="26.7" fill="#1c1c1c" textLength="165.5" lengthAdjust="spacingAndGlyphs">Generations</text>
<text transform="translate(1278 1413.2) rotate(-90)" x="0" y="0" text-anchor="middle" font-family='"Liberation Sans","DejaVu Sans",sans-serif' font-size="33" fill="#1a1a1a" textLength="214.8" lengthAdjust="spacingAndGlyphs">Fitness Values</text>
<g filter="url(#bl)"><polyline points="194.9,2154 212.9,2154 231,2138.5 249,2085 267,2065.2 285.1,2065.2 303.1,2042.4 321.1,2028.5 339.1,2025.1 357.2,2017.6 375.2,2012 393.2,2011.6 411.3,2011.4 429.3,2011.2 447.3,2011 465.4,2010.8 483.4,2010.6 501.4,2010.6 519.4,2005.3 537.5,2004.5 555.5,2004.3 573.5,2004.1 591.6,2004 609.6,2003.8 627.6,2003.6 645.6,2003.4 663.7,2003.2 681.7,2002.7 699.7,1992.8 717.8,1992.8 735.8,1992.8 753.8,1992.8 771.9,1992.8 789.9,1992.8 807.9,1992.8 826,1992.8 844,1992.8 862,1992.8 880,1992.8 898.1,1992.8 916.1,1992.8 934.1,1992.8 952.2,1992.8 970.2,1992.8 988.2,1992.8 1006.2,1992.8 1024.3,1992.8 1042.3,1992.8 1060.3,1992.8 1078.4,1992.8" fill="none" stroke="#1f72b0" stroke-width="4" stroke-linejoin="round" stroke-linecap="square"/>
<polyline points="194.9,2281.3 212.9,2257.5 231,2206 249,2165.3 267,2144.5 285.1,2138.5 303.1,2115.7 321.1,2097.9 339.1,2084 357.2,2052.9 375.2,2048.9 393.2,2056.9 411.3,2041.4 429.3,2033 447.3,2050.9 465.4,2061.6 483.4,2084.6 501.4,2069 519.4,2051.3 537.5,2041.8 555.5,2045 573.5,2057.2 591.6,2066.2 609.6,2048.9 627.6,2052.3 645.6,2017.6 663.7,2015.6 681.7,2016.6 699.7,2002.7 717.8,2012.6 735.8,2030.5 753.8,2030.5 771.9,2012.6 789.9,2011.6 807.9,2035.4 826,2041.4 844,2023.7 862,2027.9 880,2024.5 898.1,2004.7 916.1,1993.8 934.1,2003.7 952.2,2007.7 970.2,2006.7 988.2,2033.5 1006.2,2003.7 1024.3,2034.4 1042.3,2025.5 1060.3,2037.4 1078.4,2012.6" fill="none" stroke="#ff7530" stroke-width="4" stroke-linejoin="round" stroke-linecap="square"/>
<polyline points="194.9,2650.8 212.9,2373 231,2394 249,2287 267,2225.8 285.1,2216.9 303.1,2190.1 321.1,2236.7 339.1,2283.5 357.2,2120.7 375.2,2129.6 393.2,2212.9 411.3,2137 429.3,2061.2 447.3,2236.7 465.4,2158.4 483.4,2273.4 501.4,2178.2 519.4,2209 537.5,2227.8 555.5,2122.7 573.5,2149.5 591.6,2276.4 609.6,2178.2 627.6,2193.1 645.6,2098.9 663.7,2116.7 681.7,2116.7 699.7,2004.7 717.8,2087 735.8,2278.4 753.8,2278.4 771.9,2111.8 789.9,2148.5 807.9,2315 826,2325 844,2165.3 862,2231.7 880,2169.3 898.1,2169.3 916.1,1994.8 934.1,2152.4 952.2,2092 970.2,2115.7 988.2,2257.5 1006.2,2117.7 1024.3,2331.9 1042.3,2174.2 1060.3,2227.8 1078.4,2124.7" fill="none" stroke="#1d9a3a" stroke-width="4" stroke-linejoin="round" stroke-linecap="square"/>
<rect x="898.2" y="2536.3" width="212.4" height="133.5" rx="5" ry="5" fill="#fff" fill-opacity="0.8" stroke="#d8d8d8" stroke-width="4.6"/>
<line x1="906.7" y1="2560.8" x2="965.2" y2="2560.8" stroke="#1f72b0" stroke-width="4"/>
<text x="986" y="2570.4" font-family='"DejaVu Sans","Liberation Sans",sans-serif' font-size="26.7" fill="#0a0a0a" stroke="#0a0a0a" stroke-width="0.7">best</text>
<line x1="906.7" y1="2601.5" x2="965.2" y2="2601.5" stroke="#ff7530" stroke-width="4"/>
<text x="986" y="2611.1" font-family='"DejaVu Sans","Liberation Sans",sans-serif' font-size="26.7" fill="#0a0a0a" stroke="#0a0a0a" stroke-width="0.7">average</text>
<line x1="906.7" y1="2642.2" x2="965.2" y2="2642.2" stroke="#1d9a3a" stroke-width="4"/>
<text x="986" y="2651.8" font-family='"DejaVu Sans","Liberation Sans",sans-serif' font-size="26.7" fill="#0a0a0a" stroke="#0a0a0a" stroke-width="0.7">worst</text>
<path d="M152.5 1961H1123V2682.2" fill="none" stroke="#1c1c1c" stroke-width="4.2" stroke-linecap="square"/>
<path d="M152.5 1961V2682.2H1123" fill="none" stroke="#4a4a4a" stroke-width="4.2" stroke-linecap="square"/>
<line x1="196.2" y1="2682.2" x2="196.2" y2="2692.7" stroke="#333" stroke-width="3.2"/>
<text x="194.7" y="2723.9" text-anchor="middle" font-family='"DejaVu Sans","Liberation Sans",sans-serif' font-size="26.7" fill="#0a0a0a" stroke="#0a0a0a" stroke-width="0.7">0</text>
<line x1="376.7" y1="2682.2" x2="376.7" y2="2692.7" stroke="#333" stroke-width="3.2"/>
<text x="375.2" y="2723.9" text-anchor="middle" font-family='"DejaVu Sans","Liberation Sans",sans-serif' font-size="26.7" fill="#0a0a0a" stroke="#0a0a0a" stroke-width="0.7">10</text>
<line x1="557.2" y1="2682.2" x2="557.2" y2="2692.7" stroke="#333" stroke-width="3.2"/>
<text x="555.7" y="2723.9" text-anchor="middle" font-family='"DejaVu Sans","Liberation Sans",sans-serif' font-size="26.7" fill="#0a0a0a" stroke="#0a0a0a" stroke-width="0.7">20</text>
<line x1="737.7" y1="2682.2" x2="737.7" y2="2692.7" stroke="#333" stroke-width="3.2"/>
<text x="736.2" y="2723.9" text-anchor="middle" font-family='"DejaVu Sans","Liberation Sans",sans-serif' font-size="26.7" fill="#0a0a0a" stroke="#0a0a0a" stroke-width="0.7">30</text>
<line x1="918.2" y1="2682.2" x2="918.2" y2="2692.7" stroke="#333" stroke-width="3.2"/>
<text x="916.7" y="2723.9" text-anchor="middle" font-family='"DejaVu Sans","Liberation Sans",sans-serif' font-size="26.7" fill="#0a0a0a" stroke="#0a0a0a" stroke-width="0.7">40</text>
<line x1="1098.7" y1="2682.2" x2="1098.7" y2="2692.7" stroke="#333" stroke-width="3.2"/>
<text x="1097.2" y="2723.9" text-anchor="middle" font-family='"DejaVu Sans","Liberation Sans",sans-serif' font-size="26.7" fill="#0a0a0a" stroke="#0a0a0a" stroke-width="0.7">50</text>
<line x1="142" y1="1993" x2="152.5" y2="1993" stroke="#333" stroke-width="3.2"/>
<text x="131.2" y="2002.7" text-anchor="end" font-family='"DejaVu Sans","Liberation Sans",sans-serif' font-size="26.7" fill="#0a0a0a" stroke="#0a0a0a" stroke-width="0.7">0.80</text>
<line x1="142" y1="2152.5" x2="152.5" y2="2152.5" stroke="#333" stroke-width="3.2"/>
<text x="131.2" y="2162.2" text-anchor="end" font-family='"DejaVu Sans","Liberation Sans",sans-serif' font-size="26.7" fill="#0a0a0a" stroke="#0a0a0a" stroke-width="0.7">0.75</text>
<line x1="142" y1="2310.5" x2="152.5" y2="2310.5" stroke="#333" stroke-width="3.2"/>
<text x="131.2" y="2320.2" text-anchor="end" font-family='"DejaVu Sans","Liberation Sans",sans-serif' font-size="26.7" fill="#0a0a0a" stroke="#0a0a0a" stroke-width="0.7">0.70</text>
<line x1="142" y1="2469.5" x2="152.5" y2="2469.5" stroke="#333" stroke-width="3.2"/>
<text x="131.2" y="2479.2" text-anchor="end" font-family='"DejaVu Sans","Liberation Sans",sans-serif' font-size="26.7" fill="#0a0a0a" stroke="#0a0a0a" stroke-width="0.7">0.65</text>
<line x1="142" y1="2628.2" x2="152.5" y2="2628.2" stroke="#333" stroke-width="3.2"/>
<text x="131.2" y="2637.9" text-anchor="end" font-family='"DejaVu Sans","Liberation Sans",sans-serif' font-size="26.7" fill="#0a0a0a" stroke="#0a0a0a" stroke-width="0.7">0.60</text></g>
<text x="612" y="1936.8" text-anchor="middle" font-family='"Liberation Sans","DejaVu Sans",sans-serif' font-size="42" fill="#1a1a1a" textLength="237.8" lengthAdjust="spacingAndGlyphs">Naive Bayes</text>
<text x="612.6" y="2789" text-anchor="middle" font-family='"Liberation Sans","DejaVu Sans",sans-serif' font-size="33" fill="#1a1a1a" textLength="190.4" lengthAdjust="spacingAndGlyphs">Generations</text>
<text transform="translate(42.2 2348.6) rotate(-90)" x="0" y="0" text-anchor="middle" font-family='"Liberation Sans","DejaVu Sans",sans-serif' font-size="33" fill="#1a1a1a" textLength="216.1" lengthAdjust="spacingAndGlyphs">Fitness Values</text>
<g><polyline points="1450.4,2355.5 1468.4,2314 1486.4,2278.3 1504.4,2188.6 1522.4,2096.9 1540.4,2096.9 1558.4,2096.5 1576.4,2095.9 1594.4,2095.9 1612.4,2082 1630.4,2079.1 1648.4,2071.1 1666.4,2070.7 1684.4,2066.8 1702.4,2063.2 1720.4,2062.2 1738.4,2061.8 1756.4,2061.2 1774.4,2060.5 1792.4,2057.8 1810.4,2057.8 1828.4,2057.8 1846.4,2057.8 1864.4,2057.8 1882.4,2057.8 1900.4,2054.3 1918.4,2047.9 1936.4,2047.9 1954.4,2024.1 1972.4,2023.5 1990.4,2022.5 2008.4,2021.6 2026.4,2009.7 2044.4,2009.3 2062.4,2008.3 2080.4,2007.9 2098.4,2007.7 2116.4,2004.1 2134.4,2001.7 2152.4,2001.7 2170.4,2001.7 2188.4,1990.8 2206.4,1990.8 2224.4,1990.8 2242.4,1990.8 2260.4,1990.8 2278.4,1990.8 2296.4,1990.8 2314.4,1990.8 2332.4,1990.8" fill="none" stroke="#1f77b4" stroke-width="3.7" stroke-linejoin="round" stroke-linecap="square"/>
<polyline points="1450.4,2458.5 1468.4,2395 1486.4,2372 1504.4,2309.5 1522.4,2231.7 1540.4,2186.1 1558.4,2171.3 1576.4,2163.3 1594.4,2135.6 1612.4,2112.8 1630.4,2107.2 1648.4,2099.9 1666.4,2094.9 1684.4,2093.9 1702.4,2077.1 1720.4,2089.4 1738.4,2080.6 1756.4,2093.9 1774.4,2082.5 1792.4,2071.1 1810.4,2077.7 1828.4,2069.1 1846.4,2072.1 1864.4,2101.9 1882.4,2096.3 1900.4,2078.1 1918.4,2084.6 1936.4,2083 1954.4,2098.5 1972.4,2065.2 1990.4,2049.7 2008.4,2046.3 2026.4,2039.8 2044.4,2027.9 2062.4,2026.3 2080.4,2018 2098.4,2016.1 2116.4,2017.6 2134.4,2016.6 2152.4,2039.8 2170.4,2047.3 2188.4,2040.4 2206.4,2027.1 2224.4,2008.1 2242.4,2007.3 2260.4,2012.6 2278.4,2006.1 2296.4,2032.5 2314.4,2023.9 2332.4,2035.8" fill="none" stroke="#ff7f0e" stroke-width="3.7" stroke-linejoin="round" stroke-linecap="square"/>
<polyline points="1450.4,2648.8 1468.4,2517 1486.4,2493.2 1504.4,2452.5 1522.4,2411.9 1540.4,2279.6 1558.4,2285.2 1576.4,2319 1594.4,2221.8 1612.4,2160.4 1630.4,2175.8 1648.4,2150 1666.4,2150.8 1684.4,2249.6 1702.4,2099.9 1720.4,2221.4 1738.4,2144.5 1756.4,2232 1774.4,2185.1 1792.4,2100.9 1810.4,2200.4 1828.4,2121.7 1846.4,2118.3 1864.4,2307.1 1882.4,2307.1 1900.4,2175.2 1918.4,2273 1936.4,2189.7 1954.4,2321 1972.4,2254.5 1990.4,2093.9 2008.4,2101.9 2026.4,2123.7 2044.4,2064.8 2062.4,2120.3 2080.4,2033.8 2098.4,2025.5 2116.4,2050.3 2134.4,2091 2152.4,2307.1 2170.4,2307.1 2188.4,2276.4 2206.4,2245.6 2224.4,2037.4 2242.4,2094.9 2260.4,2153.4 2278.4,2095.3 2296.4,2309.5 2314.4,2309.5 2332.4,2275.4" fill="none" stroke="#2ca02c" stroke-width="3.7" stroke-linejoin="round" stroke-linecap="square"/>
<rect x="2155.1" y="2536.3" width="210" height="131.9" rx="5" ry="5" fill="#fff" fill-opacity="0.8" stroke="#cccccc" stroke-width="2"/>
<line x1="2162.4" y1="2560" x2="2220.9" y2="2560" stroke="#1f77b4" stroke-width="3.7"/>
<text x="2241.7" y="2569.6" font-family='"DejaVu Sans","Liberation Sans",sans-serif' font-size="26.7" fill="#1c1c1c">best</text>
<line x1="2162.4" y1="2600.7" x2="2220.9" y2="2600.7" stroke="#ff7f0e" stroke-width="3.7"/>
<text x="2241.7" y="2610.3" font-family='"DejaVu Sans","Liberation Sans",sans-serif' font-size="26.7" fill="#1c1c1c">average</text>
<line x1="2162.4" y1="2641.4" x2="2220.9" y2="2641.4" stroke="#2ca02c" stroke-width="3.7"/>
<text x="2241.7" y="2651" font-family='"DejaVu Sans","Liberation Sans",sans-serif' font-size="26.7" fill="#1c1c1c">worst</text>
<path d="M1407.8 1960.3H2378.7V2681.4" fill="none" stroke="#000" stroke-width="2.3" stroke-linecap="square"/>
<path d="M1407.8 1960.3V2681.4H2378.7" fill="none" stroke="#000" stroke-width="2.3" stroke-linecap="square"/>
<line x1="1452.2" y1="2681.4" x2="1452.2" y2="2692" stroke="#000" stroke-width="2.2"/>
<text x="1450.7" y="2721.4" text-anchor="middle" font-family='"DejaVu Sans","Liberation Sans",sans-serif' font-size="26.7" fill="#1c1c1c">0</text>
<line x1="1632.2" y1="2681.4" x2="1632.2" y2="2692" stroke="#000" stroke-width="2.2"/>
<text x="1630.7" y="2721.4" text-anchor="middle" font-family='"DejaVu Sans","Liberation Sans",sans-serif' font-size="26.7" fill="#1c1c1c">10</text>
<line x1="1812.2" y1="2681.4" x2="1812.2" y2="2692" stroke="#000" stroke-width="2.2"/>
<text x="1810.7" y="2721.4" text-anchor="middle" font-family='"DejaVu Sans","Liberation Sans",sans-serif' font-size="26.7" fill="#1c1c1c">20</text>
<line x1="1992.2" y1="2681.4" x2="1992.2" y2="2692" stroke="#000" stroke-width="2.2"/>
<text x="1990.7" y="2721.4" text-anchor="middle" font-family='"DejaVu Sans","Liberation Sans",sans-serif' font-size="26.7" fill="#1c1c1c">30</text>
<line x1="2172.2" y1="2681.4" x2="2172.2" y2="2692" stroke="#000" stroke-width="2.2"/>
<text x="2170.7" y="2721.4" text-anchor="middle" font-family='"DejaVu Sans","Liberation Sans",sans-serif' font-size="26.7" fill="#1c1c1c">40</text>
<line x1="2352.2" y1="2681.4" x2="2352.2" y2="2692" stroke="#000" stroke-width="2.2"/>
<text x="2350.7" y="2721.4" text-anchor="middle" font-family='"DejaVu Sans","Liberation Sans",sans-serif' font-size="26.7" fill="#1c1c1c">50</text>
<line x1="1397.2" y1="2045.9" x2="1407.8" y2="2045.9" stroke="#000" stroke-width="2.2"/>
<text x="1386.5" y="2055.6" text-anchor="end" font-family='"DejaVu Sans","Liberation Sans",sans-serif' font-size="26.7" fill="#1c1c1c">0.84</text>
<line x1="1397.2" y1="2134.4" x2="1407.8" y2="2134.4" stroke="#000" stroke-width="2.2"/>
<text x="1386.5" y="2144.1" text-anchor="end" font-family='"DejaVu Sans","Liberation Sans",sans-serif' font-size="26.7" fill="#1c1c1c">0.83</text>
<line x1="1397.2" y1="2223" x2="1407.8" y2="2223" stroke="#000" stroke-width="2.2"/>
<text x="1386.5" y="2232.7" text-anchor="end" font-family='"DejaVu Sans","Liberation Sans",sans-serif' font-size="26.7" fill="#1c1c1c">0.82</text>
<line x1="1397.2" y1="2311.5" x2="1407.8" y2="2311.5" stroke="#000" stroke-width="2.2"/>
<text x="1386.5" y="2321.2" text-anchor="end" font-family='"DejaVu Sans","Liberation Sans",sans-serif' font-size="26.7" fill="#1c1c1c">0.81</text>
<line x1="1397.2" y1="2400.1" x2="1407.8" y2="2400.1" stroke="#000" stroke-width="2.2"/>
<text x="1386.5" y="2409.8" text-anchor="end" font-family='"DejaVu Sans","Liberation Sans",sans-serif' font-size="26.7" fill="#1c1c1c">0.80</text>
<line x1="1397.2" y1="2488.6" x2="1407.8" y2="2488.6" stroke="#000" stroke-width="2.2"/>
<text x="1386.5" y="2498.3" text-anchor="end" font-family='"DejaVu Sans","Liberation Sans",sans-serif' font-size="26.7" fill="#1c1c1c">0.79</text>
<line x1="1397.2" y1="2577.1" x2="1407.8" y2="2577.1" stroke="#000" stroke-width="2.2"/>
<text x="1386.5" y="2586.8" text-anchor="end" font-family='"DejaVu Sans","Liberation Sans",sans-serif' font-size="26.7" fill="#1c1c1c">0.78</text>
<line x1="1397.2" y1="2665.7" x2="1407.8" y2="2665.7" stroke="#000" stroke-width="2.2"/>
<text x="1386.5" y="2675.4" text-anchor="end" font-family='"DejaVu Sans","Liberation Sans",sans-serif' font-size="26.7" fill="#1c1c1c">0.77</text></g>
<line x1="1308.4" y1="2228.4" x2="1308.4" y2="2414.9" stroke="#8a8a8a" stroke-width="0.8" stroke-dasharray="16 5 3 5" opacity="0.8"/>
<text x="1875.2" y="1936.8" text-anchor="middle" font-family='"Liberation Sans","DejaVu Sans",sans-serif' font-size="42" fill="#1a1a1a" textLength="87.3" lengthAdjust="spacingAndGlyphs">KNN</text>
<text x="1899.5" y="2774.8" text-anchor="middle" font-family='"Liberation Sans","DejaVu Sans",sans-serif' font-size="33" fill="#1a1a1a" textLength="190.4" lengthAdjust="spacingAndGlyphs">Generations</text>
<text transform="translate(1278 2355.2) rotate(-90)" x="0" y="0" text-anchor="middle" font-family='"Liberation Sans","DejaVu Sans",sans-serif' font-size="33" fill="#1a1a1a" textLength="215.1" lengthAdjust="spacingAndGlyphs">Fitness Values</text>
</svg></body></html>
